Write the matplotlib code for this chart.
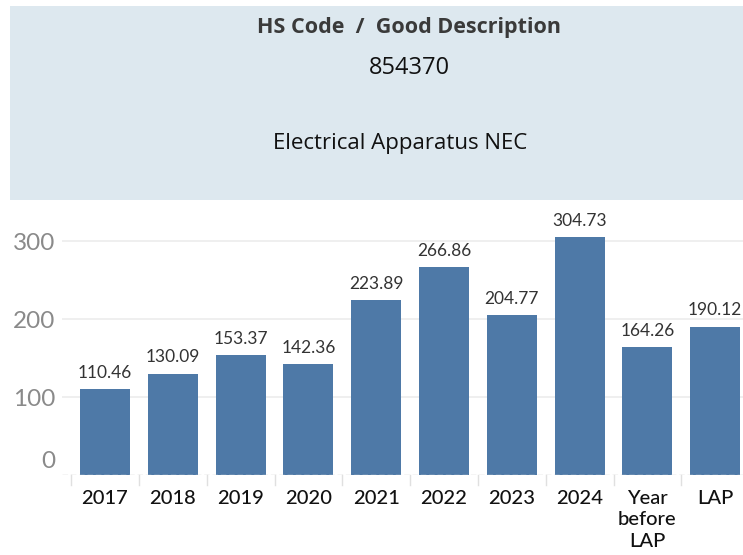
import numpy as np
import matplotlib.pyplot as plt
import matplotlib.transforms as mtransforms
from matplotlib.patches import Rectangle

categories = ['2017', '2018', '2019', '2020', '2021', '2022', '2023', '2024',
              'Year\nbefore\nLAP', 'LAP']
values = [110.46, 130.09, 153.37, 142.36, 223.89, 266.86, 204.77, 304.73,
          164.26, 190.12]
ytick_vals = [0, 100, 200, 300]

hs_code = '854370'
good_desc = 'Electrical Apparatus NEC'

W, H = 743, 555
fig = plt.figure(figsize=(W / 100, H / 100), dpi=100)
plt.rcParams['font.family'] = ['Open Sans', 'DejaVu Sans']

# header panel
fig.patches.append(Rectangle((10 / W, 1 - 200 / H), (W - 10) / W, 194 / H,
                             transform=fig.transFigure, facecolor='#dde8ef',
                             edgecolor='none', zorder=0))
fig.text(409 / W, 1 - 28 / H, 'HS Code  /  Good Description', ha='center', va='center',
         fontsize=15.5, fontweight='bold', color='#3a3a3a')
fig.text(409 / W, 1 - 68 / H, hs_code, ha='center', va='center', fontsize=17, color='#111111')
fig.text(400 / W, 1 - 144 / H, good_desc, ha='center', va='center', fontsize=16, color='#111111')

# chart area: baseline at y=475 px, 78 px per 100 units
left_px, right_px, top_px, base_px = 62, 743, 205, 475
ax = fig.add_axes([left_px / W, 1 - base_px / H, (right_px - left_px) / W,
                   (base_px - top_px) / H])
step = 67.8
x = np.arange(len(categories))
ax.set_xlim(-(105 - left_px) / step, (right_px - 105) / step)
ax.set_ylim(0, (base_px - top_px) / 0.78)

ax.bar(x, values, width=50 / step, color='#4e79a7', zorder=2)
for xi, v in zip(x, values):
    ax.annotate(f'{v:.2f}', (xi, v), xytext=(0, 6), textcoords='offset points',
                ha='center', va='bottom', fontsize=12.5, color='#333333',
                family=['Lato', 'DejaVu Sans'], annotation_clip=False)

for v in ytick_vals[1:]:
    ax.axhline(v, color='#ececec', lw=1.2, zorder=1)
ax.axhline(0, color='#d0d0d0', lw=1, ls=(0, (4, 2)), zorder=3)

# short separators between categories below the baseline
for s in np.arange(len(categories)) - 0.5:
    ax.plot([s, s], [0, -10 / (base_px - top_px)], transform=ax.get_xaxis_transform(),
            color='#e0e0e0', lw=1, clip_on=False)

for sp in ax.spines.values():
    sp.set_visible(False)
ax.set_yticks(ytick_vals)
ax.set_yticklabels([str(v) for v in ytick_vals], fontsize=17.5, color='#8a8a8a',
                   family=['Lato', 'DejaVu Sans'])
ax.tick_params(axis='y', length=0, pad=5)
# zero label sits a little above the baseline
ylabels = ax.get_yticklabels()
ylabels[0].set_transform(ylabels[0].get_transform() +
                         mtransforms.ScaledTranslation(0, 15 / 100, fig.dpi_scale_trans))

ax.set_xticks(x)
ax.set_xticklabels(categories, fontsize=14.5, color='#111111', va='top',
                   linespacing=1.3, fontweight='medium', family=['Lato', 'DejaVu Sans'])
ax.tick_params(axis='x', length=0, pad=11)

fig.savefig('out.png', dpi=100)
